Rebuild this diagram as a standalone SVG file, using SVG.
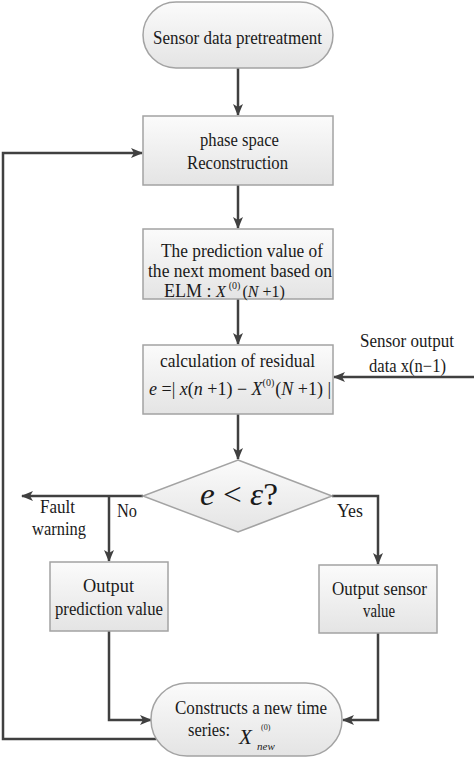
<svg xmlns="http://www.w3.org/2000/svg" width="474" height="757" viewBox="0 0 474 757">
<defs>
<linearGradient id="g" x1="0" y1="0" x2="0" y2="1">
<stop offset="0" stop-color="#fbfbfb"/>
<stop offset="1" stop-color="#e4e4e4"/>
</linearGradient>
<marker id="ah" viewBox="0 0 12 10" refX="11" refY="5" markerWidth="12" markerHeight="10" markerUnits="userSpaceOnUse" orient="auto">
<path d="M0,0 L12,5 L0,10 L3,5 Z" fill="#404040"/>
</marker>
<style>
.n{fill:url(#g);stroke:#a3a3a3;stroke-width:1.5}
.t{font-family:"Liberation Serif","DejaVu Serif",serif;font-size:18px;fill:#1a1a1a}
.i{font-style:italic}
.c{fill:none;stroke:#404040;stroke-width:2.5;marker-end:url(#ah)}
</style>
</defs>
<g id="connectors">
<line class="c" x1="238" y1="68" x2="238" y2="115"/>
<line class="c" x1="238" y1="185" x2="238" y2="228"/>
<line class="c" x1="238" y1="299" x2="238" y2="344"/>
<line class="c" x1="238" y1="414" x2="238" y2="459"/>
<line class="c" x1="474" y1="377" x2="334" y2="377"/>
<line class="c" x1="143" y1="496" x2="22" y2="496"/>
<line class="c" x1="109" y1="496" x2="109" y2="561"/>
<polyline class="c" points="332,496 378,496 378,564"/>
<polyline class="c" points="109,631 109,720 151,720"/>
<polyline class="c" points="378,633 378,720 343,720"/>
<polyline class="c" points="156,739 3,739 3,153 142,153"/>
</g>
<g id="start">
<rect class="n" x="143" y="2" width="190" height="66" rx="33" ry="33"/>
<text class="t" x="153" y="44" textLength="169" lengthAdjust="spacingAndGlyphs">Sensor data pretreatment</text>
</g>
<g id="phase">
<rect class="n" x="143" y="116" width="190" height="69"/>
<text class="t" x="200" y="146" textLength="79" lengthAdjust="spacingAndGlyphs">phase space</text>
<text class="t" x="187" y="169" textLength="101" lengthAdjust="spacingAndGlyphs">Reconstruction</text>
</g>
<g id="predict">
<rect class="n" x="143" y="229" width="190" height="70"/>
<text class="t" x="161" y="257" textLength="162" lengthAdjust="spacingAndGlyphs">The prediction value of</text>
<text class="t" x="148" y="277" textLength="184" lengthAdjust="spacingAndGlyphs">the next moment based on</text>
<text class="t" x="164" y="297">ELM : <tspan class="i" style="font-size:16px">X</tspan><tspan style="font-size:10px" dx="3" dy="-8">(0)</tspan><tspan style="font-size:16px" dx="2" dy="8">(</tspan><tspan class="i" style="font-size:16px">N</tspan><tspan style="font-size:16px"> +1)</tspan></text>
</g>
<g id="residual">
<rect class="n" x="143" y="345" width="190" height="69"/>
<text class="t" x="160" y="367" textLength="155" lengthAdjust="spacingAndGlyphs">calculation of  residual</text>
<text class="t" x="149" y="395"><tspan class="i">e</tspan> =| <tspan class="i">x</tspan>(<tspan class="i">n</tspan> +1) − <tspan class="i">X</tspan><tspan style="font-size:10px" dy="-9">(0)</tspan><tspan dy="9" dx="1">(</tspan><tspan class="i">N</tspan> +1) |</text>
</g>
<g id="sensor-in">
<text class="t" x="360" y="347" textLength="94" lengthAdjust="spacingAndGlyphs">Sensor output</text>
<text class="t" x="369" y="372" textLength="77" lengthAdjust="spacingAndGlyphs">data x(n−1)</text>
</g>
<g id="decision">
<polygon class="n" points="238,460 332,496 238,532 143,496"/>
<text class="t" x="200" y="505" style="font-size:32px" textLength="78" lengthAdjust="spacingAndGlyphs"><tspan class="i">e</tspan> &lt; <tspan class="i">ε</tspan>?</text>
</g>
<g id="labels">
<text class="t" x="40" y="513" textLength="35" lengthAdjust="spacingAndGlyphs">Fault</text>
<text class="t" x="32" y="535" textLength="54" lengthAdjust="spacingAndGlyphs">warning</text>
<text class="t" x="117" y="517" textLength="20" lengthAdjust="spacingAndGlyphs">No</text>
<text class="t" x="337" y="517" textLength="26" lengthAdjust="spacingAndGlyphs">Yes</text>
</g>
<g id="out-pred">
<rect class="n" x="50" y="562" width="118" height="69"/>
<text class="t" x="83" y="592" textLength="51" lengthAdjust="spacingAndGlyphs">Output</text>
<text class="t" x="55" y="615" textLength="108" lengthAdjust="spacingAndGlyphs">prediction value</text>
</g>
<g id="out-sensor">
<rect class="n" x="319" y="565" width="118" height="68"/>
<text class="t" x="332" y="595" textLength="95" lengthAdjust="spacingAndGlyphs">Output sensor</text>
<text class="t" x="363" y="617" textLength="32" lengthAdjust="spacingAndGlyphs">value</text>
</g>
<g id="new-series">
<rect class="n" x="151" y="683" width="191" height="73" rx="36" ry="36"/>
<text class="t" x="175" y="714" textLength="152" lengthAdjust="spacingAndGlyphs">Constructs a new time</text>
<text class="t" x="188" y="736" textLength="42" lengthAdjust="spacingAndGlyphs">series:</text>
<text class="t i" x="239" y="744" style="font-size:21px">X</text>
<text class="t" x="261" y="730" style="font-size:8px">(0)</text>
<text class="t i" x="257" y="750" style="font-size:11px">new</text>
</g>
</svg>
